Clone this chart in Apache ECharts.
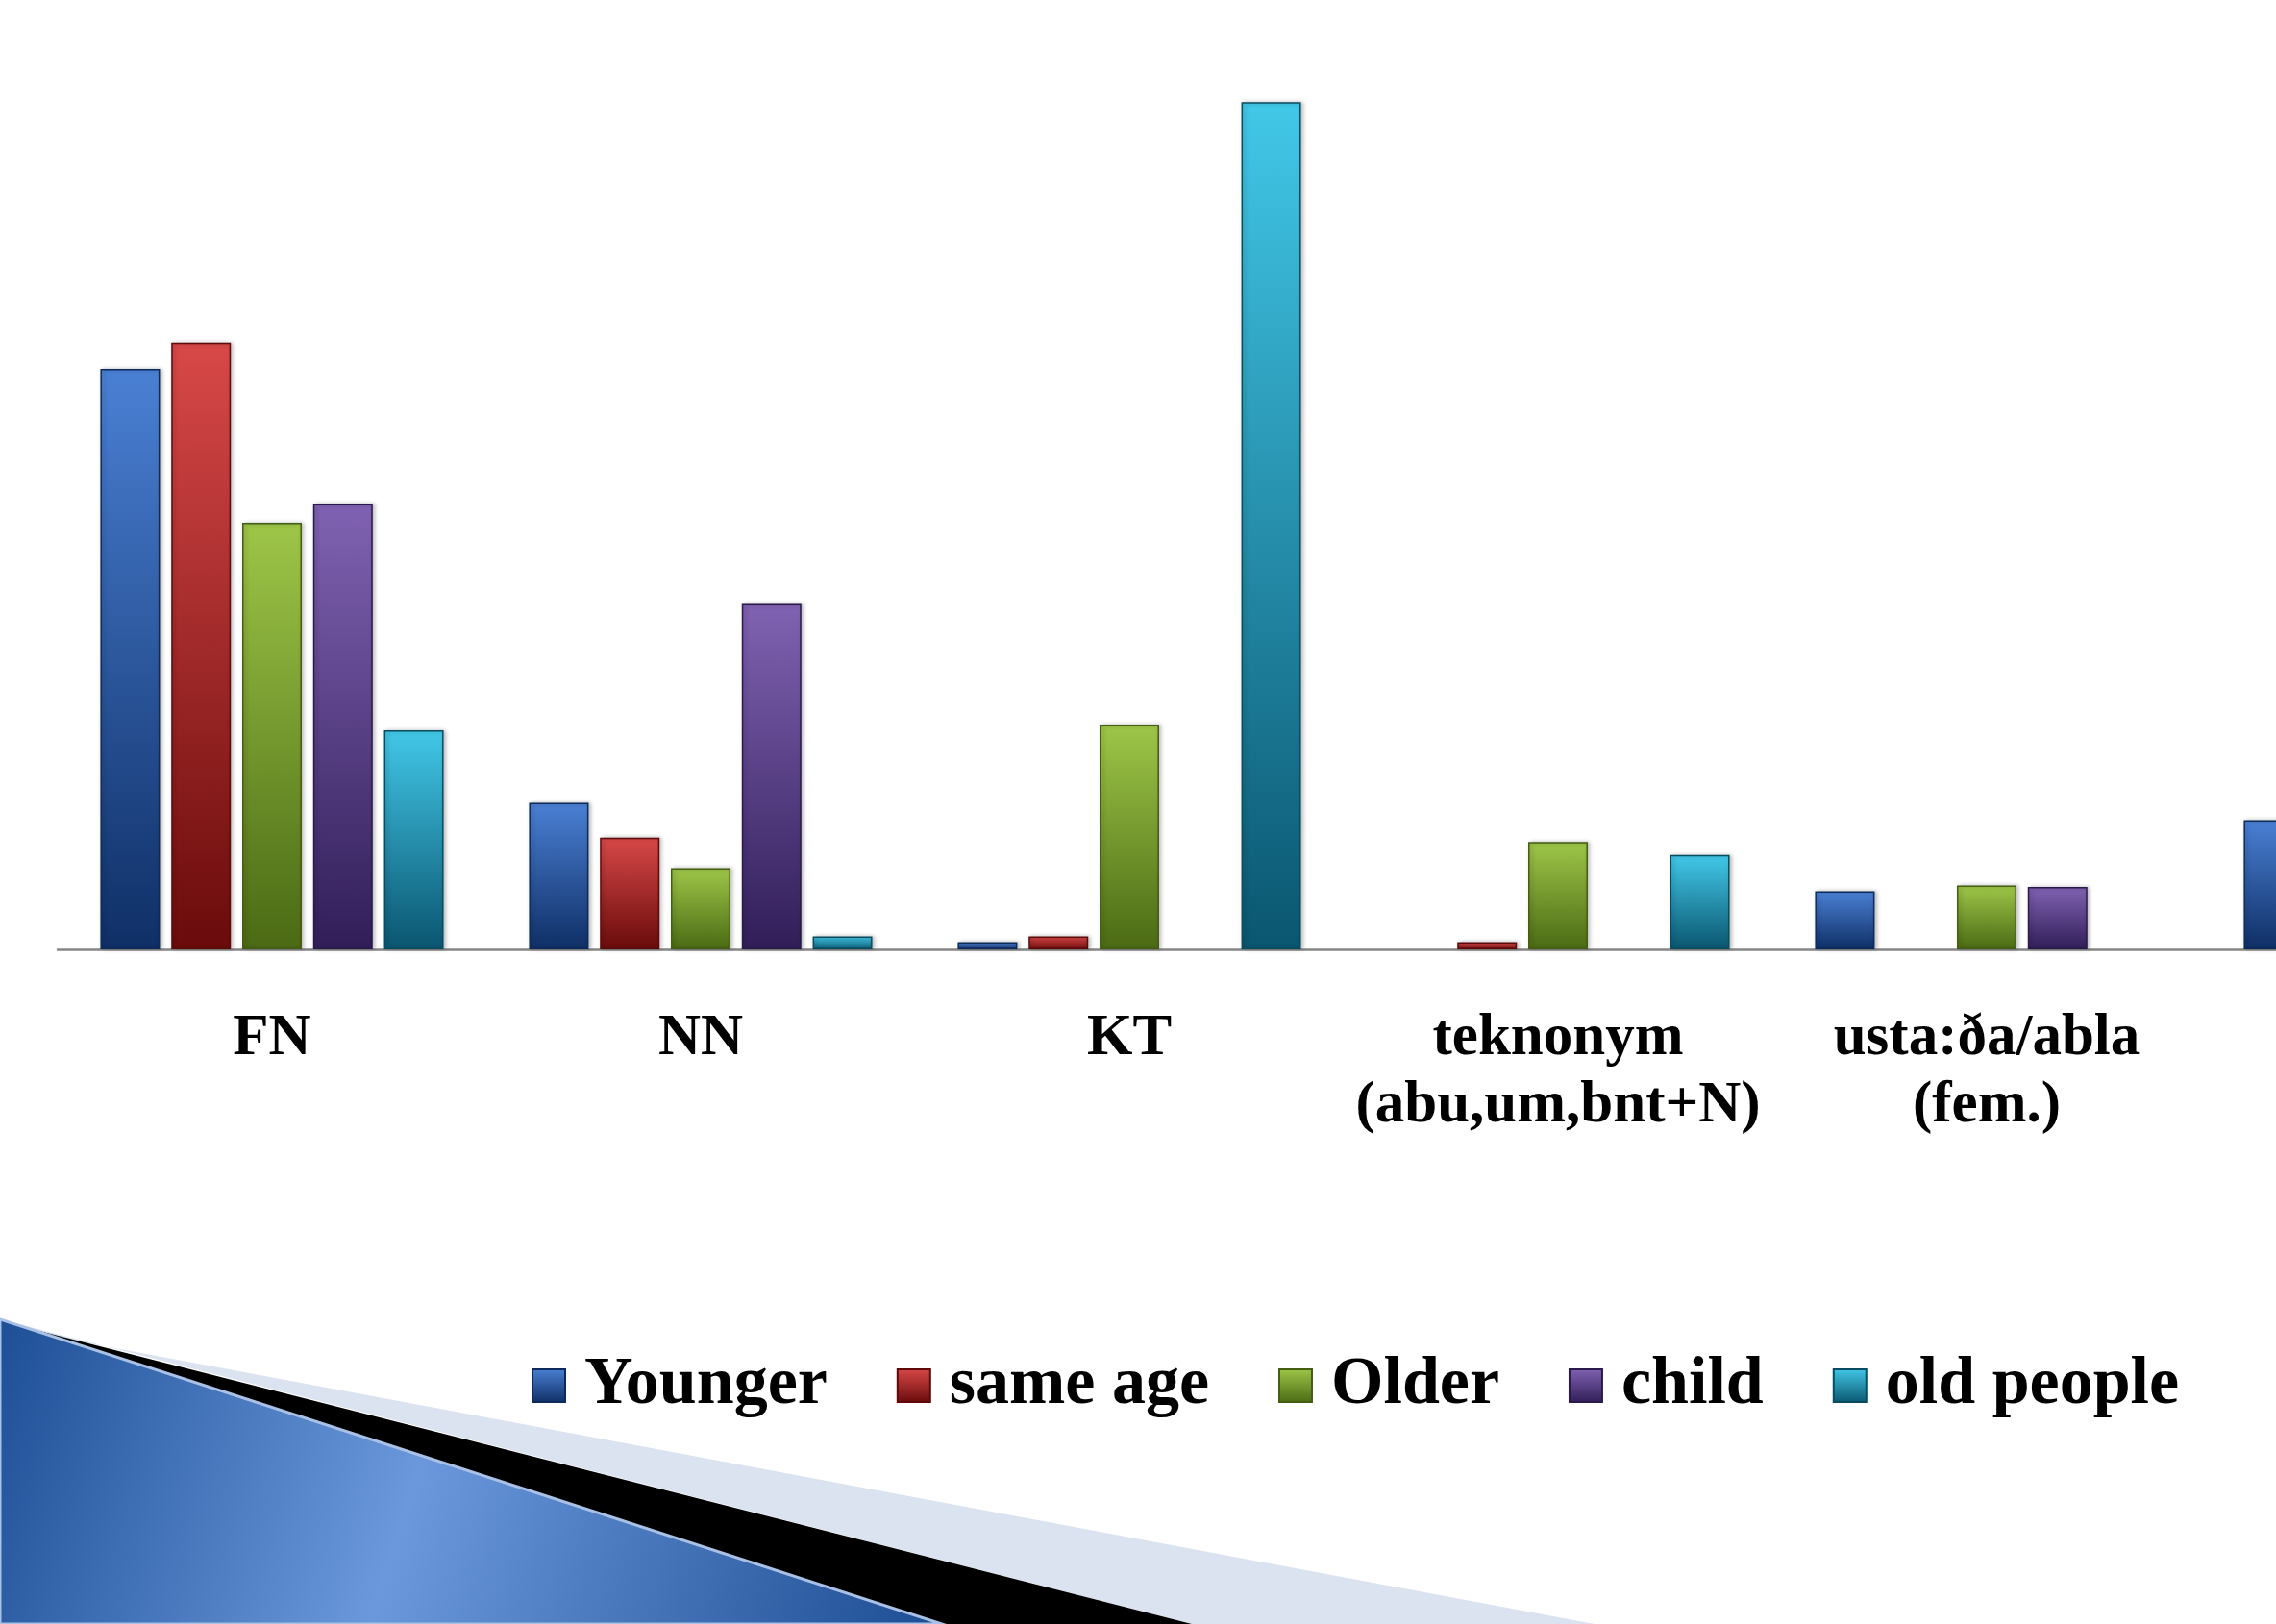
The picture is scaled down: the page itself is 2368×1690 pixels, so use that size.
<!DOCTYPE html>
<html>
<head>
<meta charset="utf-8">
<script src="https://cdn.jsdelivr.net/npm/echarts@6/dist/echarts.min.js"></script>
<style>
html, body { margin: 0; padding: 0; background: #fff; overflow: hidden; }
#chart { width: 2800px; height: 1690px; }
</style>
</head>
<body>
<div id="chart"></div>
<script>
// forms of address by addressee group (last category is cut off at the right edge)
var categories = ['FN', 'NN', 'KT', 'teknonym\n(abu,um,bnt+N)', 'usta:ða/abla\n(fem.)', ''];
var younger   = [40.0, 10.1, 0.5, null, 4.0, 8.9];
var sameAge   = [41.8, 7.7, 0.9, 0.5, null, null];
var older     = [29.4, 5.6, 15.5, 7.4, 4.4, null];
var child     = [30.7, 23.8, null, null, 4.3, null];
var oldPeople = [15.1, 0.9, 58.4, 6.5, null, null];

var seriesNames = ['Younger', 'same age', 'Older', 'child', 'old people'];
var seriesData = [younger, sameAge, older, child, oldPeople];
var colorTop = ['#4a80d4', '#d84848', '#9ec648', '#8062b2', '#42c8e8'];
var colorBottom = ['#0f2f66', '#6a0b0b', '#4b6a14', '#311e58', '#0a5670'];
var colorBorder = ['#0c2a5c', '#5e0a0a', '#435e12', '#2a1a4c', '#084c62'];

function grad(i) {
    return new echarts.graphic.LinearGradient(0, 0, 0, 1, [
        { offset: 0, color: colorTop[i] },
        { offset: 1, color: colorBottom[i] }
    ]);
}

var dom = document.getElementById('chart');
var myChart = echarts.init(dom);

var series = [];
for (var i = 0; i < seriesNames.length; i++) {
    series.push({
        name: seriesNames[i],
        type: 'bar',
        data: seriesData[i],
        barWidth: 62,
        barGap: '19%',
        itemStyle: {
            color: grad(i),
            borderColor: colorBorder[i],
            borderWidth: 1.5,
            shadowColor: 'rgba(0,0,0,0.25)',
            shadowBlur: 4,
            shadowOffsetX: 2
        }
    });
}

var option = {
    backgroundColor: '#ffffff',
    animation: false,
    grid: { left: 60, right: 64, top: 82, bottom: 702 },
    legend: {
        left: 548,
        top: 1402,
        itemWidth: 34,
        itemHeight: 34,
        itemGap: 72,
        icon: 'rect',
        textStyle: {
            fontFamily: '"Liberation Serif", serif',
            fontWeight: 'bold',
            fontSize: 70,
            color: '#000',
            padding: [0, 0, 0, 15]
        }
    },
    xAxis: {
        type: 'category',
        data: categories,
        axisLine: { lineStyle: { color: '#868686', width: 2.5 } },
        axisTick: { show: false },
        axisLabel: {
            margin: 58,
            interval: 0,
            fontFamily: '"Liberation Serif", serif',
            fontWeight: 'bold',
            fontSize: 61,
            lineHeight: 70,
            color: '#000'
        }
    },
    yAxis: {
        type: 'value',
        min: 0,
        max: 60,
        show: false,
        splitLine: { show: false }
    },
    graphic: [
        {
            type: 'polygon',
            z: -1,
            shape: { points: [[0, 1373], [45, 1389], [1659, 1690], [1240, 1690]] },
            style: { fill: '#dbe3f0' }
        },
        {
            type: 'polygon',
            z: -1,
            shape: { points: [[0, 1373], [33, 1383], [1240, 1690], [976, 1690]] },
            style: { fill: '#000000' }
        },
        {
            type: 'polygon',
            z: -1,
            shape: { points: [[0, 1373], [980, 1690], [0, 1690]] },
            style: {
                fill: new echarts.graphic.LinearGradient(0, 0, 1, 1, [
                    { offset: 0, color: '#1d4f96' },
                    { offset: 0.45, color: '#6b98dc' },
                    { offset: 1, color: '#1c4c92' }
                ]),
                stroke: '#a9c1e6',
                lineWidth: 3
            }
        }
    ],
    series: series
};

if (option && typeof option === 'object') {
    myChart.setOption(option, true);
}
</script>
</body>
</html>
